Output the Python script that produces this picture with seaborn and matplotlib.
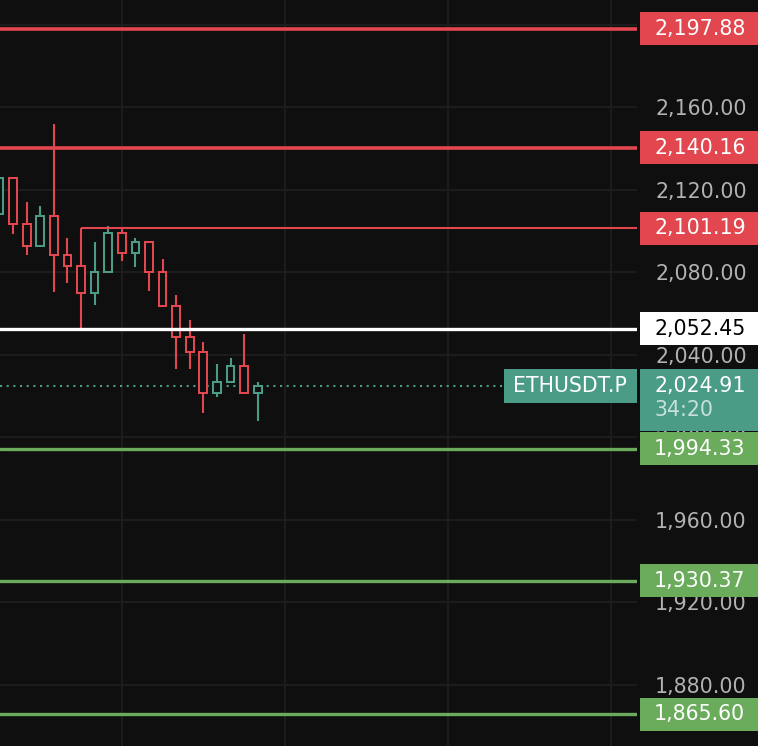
import matplotlib
matplotlib.use("Agg")
import matplotlib.pyplot as plt
from matplotlib.patches import Rectangle
import numpy as np
import seaborn as sns

# candles (oldest first)
opens = [2108.0, 2125.4, 2103.1, 2092.5, 2107.0, 2088.1, 2082.8, 2069.7, 2080.2, 2098.8,
         2089.1, 2094.4, 2079.9, 2063.7, 2048.3, 2041.1, 2021.2, 2026.5, 2034.4, 2021.2]
highs = [2126.0, 2126.0, 2114.0, 2112.0, 2151.8, 2096.5, 2101.19, 2094.5, 2102.3, 2101.19,
         2096.5, 2094.4, 2086.3, 2068.9, 2056.7, 2046.1, 2035.4, 2038.3, 2049.9, 2026.7]
lows = [2107.0, 2098.6, 2088.4, 2092.5, 2070.5, 2074.8, 2052.5, 2064.2, 2080.2, 2085.5,
        2082.6, 2070.9, 2063.2, 2033.1, 2033.1, 2011.8, 2019.5, 2026.0, 2021.2, 2007.9]
closes = [2125.4, 2103.1, 2092.5, 2107.0, 2088.1, 2082.8, 2069.7, 2080.2, 2098.8, 2089.1,
          2094.4, 2079.9, 2063.7, 2048.3, 2041.1, 2021.2, 2026.8, 2034.4, 2021.2, 2024.91]

resistance = [2197.88, 2140.16]
resistance_thin = 2101.19      # starts at candle 6
resistance_thin_start = 6
pivot = 2052.45
supports = [1994.33, 1930.37, 1865.60]
last_price = 2024.91
countdown = "34:20"
symbol = "ETHUSDT.P"
y_ticks = [1880, 1920, 1960, 2000, 2040, 2080, 2120, 2160, 2200]
x_grid = [9, 21, 33, 45]

BG = "#0f0f0f"
GRID = "#1d1d1d"
RED = "#e2474f"
GREEN = "#6aac5c"
TEAL = "#4a9c86"
TXT = "#b2b2b2"
FS = 14.8

sns.set_theme(style="dark", rc={"figure.facecolor": BG, "axes.facecolor": BG,
                                "axes.edgecolor": BG, "grid.color": GRID})
plt.rcParams["font.family"] = ["DejaVu Sans"]

W, H = 758, 746
fig = plt.figure(figsize=(W / 100, H / 100), dpi=100)
plot_w = 637
ax = fig.add_axes([0, 0, plot_w / W, 1])
ymin, ymax = 1850.2, 2211.9
ax.set_ylim(ymin, ymax)
ax.set_xlim(0.04, 46.9)

# grid
for v in y_ticks:
    ax.axhline(v, color=GRID, lw=1.4, zorder=0)
for x in x_grid:
    ax.axvline(x, color=GRID, lw=1.4, zorder=0)

idx = np.arange(len(opens))
o = np.array(opens)
c = np.array(closes)
up = c >= o
cols = np.where(up, TEAL, RED)

# current price dotted line
ax.axhline(last_price, color=TEAL, lw=1.5, ls=(0, (1, 2.2)), zorder=1)

ax.vlines(idx, lows, highs, colors=cols, lw=1.5, zorder=2)
ax.bar(idx, np.abs(c - o), bottom=np.minimum(o, c), width=0.57,
       facecolor=BG, edgecolor=cols, linewidth=1.45, zorder=3)

# levels
for v in resistance:
    ax.axhline(v, color=RED, lw=2.6, zorder=4)
ax.hlines(resistance_thin, resistance_thin_start, 46.9, color=RED, lw=1.5, zorder=4)
ax.axhline(pivot, color="white", lw=2.4, zorder=4)
for v in supports:
    ax.axhline(v, color=GREEN, lw=2.4, zorder=4)

# price scale labels (2,200 sits fully under the 2,197.88 tag, so left blank)
ax.yaxis.tick_right()
ax.set_yticks(y_ticks)
ax.set_yticklabels([f"{v:,.2f}" if v != 2200 else "" for v in y_ticks])
ax.tick_params(axis="y", length=0, pad=13, labelsize=FS, labelcolor=TXT)
ax.tick_params(axis="x", bottom=False, labelbottom=False)
ax.grid(False)
for s in ax.spines.values():
    s.set_visible(False)

# symbol tag on the plot
px = 13.6  # pixels per candle
per_unit = H / (ymax - ymin)
box_h = 33 / per_unit
x0 = (504 + 0.5) / px
ax.add_patch(Rectangle((x0, last_price - 17 / per_unit), 46.9 - x0, 34 / per_unit,
                       facecolor=TEAL, edgecolor="none", zorder=6, clip_on=False))
ax.text((513 + 0.5) / px, last_price, symbol, color="white", fontsize=FS,
        va="center", ha="left", zorder=7)

# scale overlay with boxes
sc = fig.add_axes([plot_w / W, 0, (W - plot_w) / W, 1])
sc.set_facecolor("none")
sc.set_xlim(0, W - plot_w)
sc.set_ylim(ymin, ymax)
sc.axis("off")


def tag(v, face, fg, text=None):
    sc.add_patch(Rectangle((3, v - box_h / 2), W - plot_w, box_h,
                           facecolor=face, edgecolor="none", zorder=5))
    sc.text(17, v, text or f"{v:,.2f}", color=fg, fontsize=FS,
            va="center", ha="left", zorder=6)


for v in resistance + [resistance_thin]:
    tag(v, RED, "white")
tag(pivot, "white", "black")
for v in supports:
    tag(v, GREEN, "white")

top = last_price + 16.4 / per_unit
bot = last_price - 45.6 / per_unit
sc.add_patch(Rectangle((3, bot), W - plot_w, top - bot, facecolor=TEAL,
                       edgecolor="none", zorder=5))
sc.text(17, last_price, f"{last_price:,.2f}", color="white", fontsize=FS,
        va="center", ha="left", zorder=6)
sc.text(17, last_price - 24.5 / per_unit, countdown, color="white", alpha=0.7,
        fontsize=FS, va="center", ha="left", zorder=6)

fig.savefig("out.png", dpi=100, facecolor=BG)
